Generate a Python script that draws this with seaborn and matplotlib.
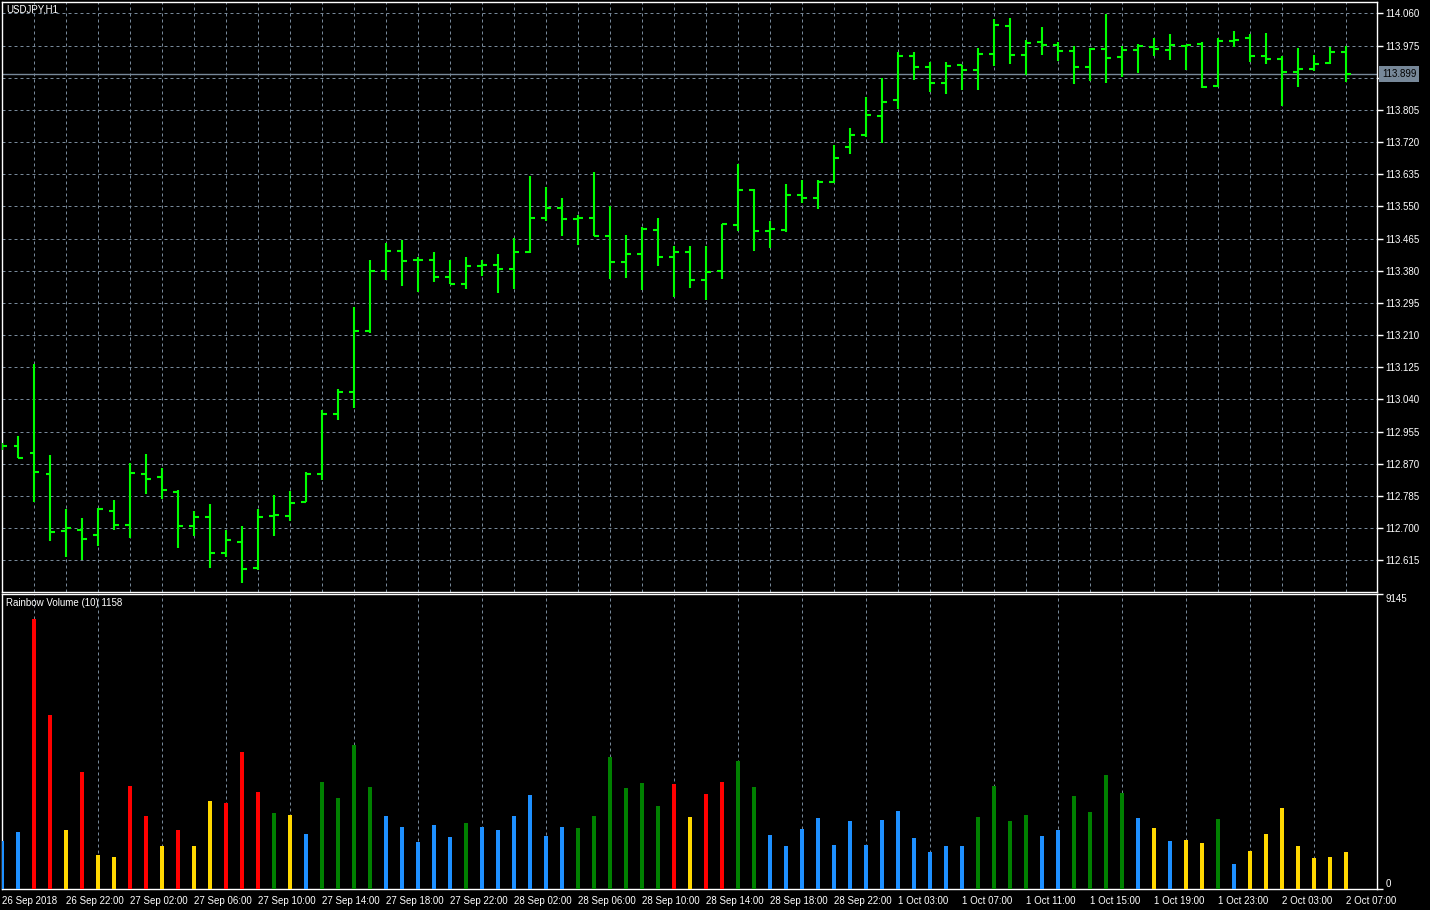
import matplotlib
matplotlib.use("Agg")
import matplotlib.pyplot as plt
import pandas as pd
import seaborn as sns
import numpy as np

# USDJPY H1 bars
opens = [112.917, 112.917, 112.897, 112.843, 112.693, 112.696, 112.681, 112.744, 112.708, 112.842,
         112.836, 112.796, 112.706, 112.728, 112.634, 112.664, 112.595, 112.733, 112.733, 112.769,
         112.843, 113.002, 113.060, 113.221, 113.379, 113.432, 113.407, 113.408, 113.363, 113.345,
         113.393, 113.395, 113.385, 113.430, 113.519, 113.545, 113.516, 113.519, 113.471, 113.403,
         113.425, 113.488, 113.416, 113.430, 113.356, 113.380, 113.501, 113.592, 113.485, 113.488,
         113.581, 113.571, 113.615, 113.707, 113.739, 113.789, 113.831, 113.948, 113.919, 113.877,
         113.924, 113.910, 113.953, 114.027, 113.950, 113.985, 113.977, 113.960, 113.919, 113.967,
         113.945, 113.962, 113.970, 113.963, 113.975, 113.978, 113.867, 113.988, 113.995, 113.948,
         113.940, 113.904, 113.913, 113.929, 113.957]
highs = [112.925, 112.942, 113.134, 112.892, 112.751, 112.726, 112.754, 112.773, 112.872, 112.896,
         112.859, 112.801, 112.746, 112.764, 112.694, 112.706, 112.749, 112.787, 112.799, 112.848,
         113.012, 113.067, 113.285, 113.407, 113.453, 113.461, 113.417, 113.429, 113.407, 113.415,
         113.409, 113.423, 113.467, 113.630, 113.600, 113.572, 113.528, 113.640, 113.552, 113.475,
         113.495, 113.518, 113.445, 113.445, 113.445, 113.503, 113.662, 113.596, 113.511, 113.608,
         113.619, 113.619, 113.711, 113.756, 113.840, 113.890, 113.957, 113.957, 113.932, 113.932,
         113.924, 113.969, 114.045, 114.048, 113.990, 114.025, 113.985, 113.973, 113.968, 114.058,
         113.975, 113.978, 113.995, 114.005, 113.977, 113.985, 113.995, 114.013, 114.005, 114.007,
         113.948, 113.968, 113.949, 113.970, 113.975]
lows = [112.905, 112.884, 112.768, 112.666, 112.624, 112.615, 112.653, 112.696, 112.673, 112.791,
        112.778, 112.648, 112.679, 112.594, 112.624, 112.554, 112.588, 112.678, 112.718, 112.769,
        112.826, 112.985, 113.017, 113.216, 113.356, 113.340, 113.323, 113.351, 113.345, 113.331,
        113.367, 113.321, 113.331, 113.428, 113.512, 113.471, 113.448, 113.471, 113.358, 113.361,
        113.329, 113.393, 113.311, 113.333, 113.303, 113.359, 113.485, 113.433, 113.440, 113.483,
        113.560, 113.543, 113.613, 113.689, 113.734, 113.718, 113.807, 113.884, 113.853, 113.847,
        113.858, 113.858, 113.922, 113.927, 113.897, 113.950, 113.933, 113.874, 113.882, 113.876,
        113.891, 113.902, 113.947, 113.937, 113.909, 113.864, 113.865, 113.970, 113.932, 113.927,
        113.815, 113.865, 113.908, 113.926, 113.879]
closes = [112.917, 112.884, 112.848, 112.689, 112.701, 112.671, 112.751, 112.708, 112.846, 112.829,
          112.800, 112.706, 112.728, 112.634, 112.669, 112.593, 112.730, 112.734, 112.766, 112.843,
          113.002, 113.060, 113.221, 113.379, 113.432, 113.406, 113.408, 113.363, 113.345, 113.393,
          113.395, 113.385, 113.430, 113.519, 113.545, 113.516, 113.519, 113.471, 113.403, 113.425,
          113.490, 113.416, 113.430, 113.356, 113.376, 113.503, 113.592, 113.485, 113.490, 113.581,
          113.571, 113.615, 113.679, 113.739, 113.792, 113.826, 113.948, 113.919, 113.877, 113.922,
          113.910, 113.953, 114.030, 113.950, 113.982, 113.977, 113.960, 113.919, 113.965, 113.943,
          113.962, 113.975, 113.967, 113.977, 113.977, 113.865, 113.988, 113.990, 113.948, 113.940,
          113.904, 113.913, 113.926, 113.957, 113.899]

volumes = [1502, 1771, 8358, 5406, 1833, 3635, 1056, 994, 3200, 2268,
           1336, 1833, 1336, 2734, 2672, 4257, 3014, 2361, 2299, 1709,
           3325, 2827, 4474, 3169, 2268, 1926, 1460, 1989, 1616, 2051,
           1926, 1833, 2268, 2921, 1647, 1926, 1895, 2268, 4101, 3138,
           3294, 2579, 3262, 2237, 2952, 3325, 3977, 3169, 1678, 1336,
           1864, 2206, 1367, 2113, 1367, 2144, 2424, 1585, 1150, 1336,
           1336, 2237, 3200, 2113, 2299, 1647, 1833, 2890, 2392, 3542,
           2983, 2206, 1895, 1491, 1522, 1429, 2175, 777, 1181, 1709,
           2517, 1336, 963, 994, 1158]
vol_level = list("bbrryryyrryryyrrrgybggggbbbbbgbbbbbbggggggryrrggbbbbbbbbbbbbbggggbbggggbybyygbyyyyyyy")

time_labels = ['26 Sep 2018', '26 Sep 22:00', '27 Sep 02:00', '27 Sep 06:00', '27 Sep 10:00',
               '27 Sep 14:00', '27 Sep 18:00', '27 Sep 22:00', '28 Sep 02:00', '28 Sep 06:00',
               '28 Sep 10:00', '28 Sep 14:00', '28 Sep 18:00', '28 Sep 22:00', '1 Oct 03:00',
               '1 Oct 07:00', '1 Oct 11:00', '1 Oct 15:00', '1 Oct 19:00', '1 Oct 23:00',
               '2 Oct 03:00', '2 Oct 07:00']
price_ticks = [112.615, 112.700, 112.785, 112.870, 112.955, 113.040, 113.125, 113.210, 113.295,
               113.380, 113.465, 113.550, 113.635, 113.720, 113.805, 113.890, 113.975, 114.060]
last_price = 113.899
vol_max = 9145

sns.set_style("dark", rc={"axes.facecolor": "black", "figure.facecolor": "black",
                          "axes.edgecolor": "white", "text.color": "white"})
plt.rcParams['font.family'] = ['Liberation Sans', 'DejaVu Sans']

W, H = 1430, 910
grid_col = '#778899'
bar_col = '#00FF00'
palette = {'r': '#FF0000', 'y': '#FFD700', 'g': '#008000', 'b': '#1E90FF'}

x = np.arange(len(opens))
df = pd.DataFrame({'x': x, 'volume': volumes, 'level': vol_level})

fig = plt.figure(figsize=(W / 100, H / 100), dpi=100)
ax1 = fig.add_axes([2 / W, 1 - 592 / H, 1375 / W, 590 / H])
ax2 = fig.add_axes([2 / W, 1 - 889 / H, 1375 / W, 295 / H])

xmax = (1377 - 2) / 16

# --- price panel: OHLC bars
tick = 0.31
ax1.vlines(x, lows, highs, color=bar_col, lw=1.5, zorder=3)
ax1.hlines(opens, x - tick, x, color=bar_col, lw=1.5, zorder=3)
ax1.hlines(closes, x, x + tick, color=bar_col, lw=1.5, zorder=3)
ax1.axhline(last_price, color=grid_col, lw=1, zorder=2)

ax1.set_xlim(-0.03, xmax)
ax1.set_ylim(112.531, 114.090)
ax1.set_yticks(price_ticks)
ax1.set_yticklabels([f'{p:.3f}' for p in price_ticks])
ax1.set_xticks(np.arange(2, 86, 2))
ax1.tick_params(axis='x', length=0, labelbottom=False)
ax1.yaxis.tick_right()
ax1.tick_params(axis='y', colors='white', labelsize=7, length=4, width=1, pad=2)
ax1.grid(True, color=grid_col, lw=0.72, linestyle=(0, (3, 3)))
ax1.set_axisbelow(True)
for s in ax1.spines.values():
    s.set_color('white')
    s.set_linewidth(1)

# current price marker covers the 113.890 label, as in the terminal
ax1.annotate(f'{last_price:.3f}', xy=(1, last_price), xycoords=('axes fraction', 'data'),
             xytext=(5, 0), textcoords='offset pixels', ha='left', va='center',
             fontsize=7, color='black', zorder=10, annotation_clip=False,
             bbox=dict(boxstyle='square,pad=0.3', fc=grid_col, ec='none'))
ax1.text(4 / 1375, 1 - 8 / 590, 'USDJPY,H1', transform=ax1.transAxes,
         color='white', fontsize=7, ha='left', va='center')

# --- volume panel
sns.barplot(data=df, x='x', y='volume', hue='level', palette=palette, native_scale=True,
            dodge=False, width=0.25, saturation=1, errorbar=None, legend=False,
            linewidth=0, ax=ax2, zorder=3)
ax2.set_xlim(-0.03, xmax)
ax2.set_ylim(0, vol_max)
ax2.set_xlabel('')
ax2.set_ylabel('')
ax2.set_xticks(np.arange(0, 85, 4))
ax2.set_xticklabels(time_labels, ha='left')
ax2.set_xticks(np.arange(2, 86, 2), minor=True)
ax2.tick_params(axis='x', which='major', colors='white', labelsize=7, length=4, width=1, pad=1)
ax2.tick_params(axis='x', which='minor', length=0)
ax2.yaxis.tick_right()
ax2.set_yticks([0, vol_max])
ax2.set_yticklabels(['0', str(vol_max)])
for lbl, va in zip(ax2.get_yticklabels(), ['bottom', 'top']):
    lbl.set_va(va)
ax2.tick_params(axis='y', colors='white', labelsize=7, length=4, width=1, pad=2)
ax2.grid(True, axis='x', which='both', color=grid_col, lw=0.72, linestyle=(0, (3, 3)))
ax2.grid(False, axis='y')
ax2.xaxis.grid(False, which='major')
ax2.set_axisbelow(True)
for s in ax2.spines.values():
    s.set_color('white')
    s.set_linewidth(1)
ax2.text(4 / 1375, 1 - 9 / 295, f'Rainbow Volume (10) {volumes[-1]}', transform=ax2.transAxes,
         color='white', fontsize=7, ha='left', va='center')

fig.savefig('out.png', dpi=100, facecolor='black')
